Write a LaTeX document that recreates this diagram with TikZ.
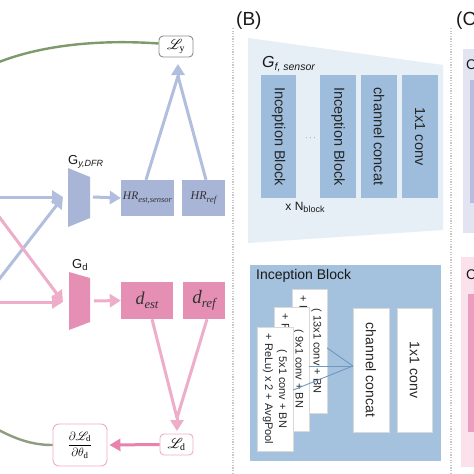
\documentclass[tikz,border=0pt]{standalone}
\usepackage{fontspec}
\setmainfont{Liberation Serif}
\setsansfont{Liberation Sans}
\usepackage{mathrsfs}
\usetikzlibrary{arrows.meta,calc}
\definecolor{bluebox}{HTML}{A9B5D7}
\definecolor{bluearr}{HTML}{B2BEDE}
\definecolor{pinkbox}{HTML}{E58FB5}
\definecolor{pinkarr}{HTML}{EEADC9}
\definecolor{pinkdark}{HTML}{E883AE}
\definecolor{greencurve}{HTML}{7E9A6B}
\definecolor{greengray}{HTML}{8E9C80}
\definecolor{panelB}{HTML}{E6EEF6}
\definecolor{steel}{HTML}{9EBDDC}
\definecolor{steelbig}{HTML}{A4C1DD}
\definecolor{steelline}{HTML}{7098BE}
\definecolor{lavlight}{HTML}{E3E4F2}
\definecolor{lavdark}{HTML}{B8BCE0}
\definecolor{pinklight}{HTML}{FBE1EC}
\definecolor{pinkmid}{HTML}{EB9DC0}
\definecolor{dotgray}{HTML}{C8C8C8}
\tikzset{
  bluebx/.style={fill=bluebox,draw=none,inner sep=0pt},
  pinkbx/.style={fill=pinkbox,draw=none,inner sep=0pt},
  lossbx/.style={rounded corners=4pt,fill=white,inner sep=0pt,line width=0.9pt},
  bline/.style={draw=bluearr,line width=3pt},
  barrow/.style={draw=bluearr,line width=3pt,-{Triangle[width=13pt,length=11pt]}},
  pline/.style={draw=pinkarr,line width=3pt},
  parrow/.style={draw=pinkarr,line width=3pt,-{Triangle[width=13pt,length=11pt]}},
  steelbx/.style={fill=steel,draw=none,rotate=-90,inner sep=0pt,minimum width=123pt,font=\sffamily\fontsize{14.5}{15}\selectfont,text=black!85},
  whitebx/.style={fill=white,draw=black!15,line width=0.4pt,rotate=-90,inner sep=0pt,minimum width=124pt,minimum height=35pt,align=center,font=\sffamily\fontsize{11}{14}\selectfont,text=black!85},
  sepline/.style={draw=dotgray,line width=1.6pt,dash pattern=on 1.2pt off 1.4pt},
  lbl/.style={font=\sffamily,text=black!90,inner sep=0pt}
}
\begin{document}
\begin{tikzpicture}[x=1pt,y=-1pt]
\clip (0,0) rectangle (474,474);
\fill[white] (0,0) rectangle (474,474);

% ---------- Panel A ----------
\fill[bluebox] (68,168) -- (90,177) -- (90,218) -- (68,227) -- cycle;
\fill[pinkbox] (69,272) -- (90,278) -- (90,322) -- (69,330) -- cycle;
\coordinate (Gyin) at (63,197);
\coordinate (Gyout) at (93,197);
\coordinate (Gdin) at (63,302);
\coordinate (Gdout) at (94,301);
\node[lbl,anchor=base west] (Gylab) at (68,164) {\fontsize{13}{13}\selectfont G\raisebox{-2.5pt}{\fontsize{9}{9}\selectfont\itshape y,DFR}};
\node[lbl,anchor=base west] (Gdlab) at (72,268) {\fontsize{13}{13}\selectfont G\raisebox{-2pt}{\fontsize{9.5}{9}\selectfont d}};

\coordinate (inB1) at (-5,197);
\coordinate (inB2) at (-5,284.6);
\coordinate (inP1) at (-5,211.3);
\coordinate (inP2) at (-5,302);
\draw[barrow] (inB1) -- (Gyin);
\draw[barrow] (inB2) -- (Gyin);
\draw[parrow] (inP1) -- (Gdin);
\draw[parrow] (inP2) -- (Gdin);

\node[bluebx,minimum width=53pt,minimum height=36pt] (HRest) at (147.5,198) {\fontsize{11.5}{11}\selectfont\itshape\color{black!80}HR\raisebox{-2.5pt}{\fontsize{8.5}{8}\selectfont est,sensor}};
\node[bluebx,minimum width=43pt,minimum height=36pt] (HRref) at (203.5,198) {\fontsize{12}{11}\selectfont\itshape\color{black!80}HR\raisebox{-2.5pt}{\fontsize{9}{8}\selectfont ref}};
\node[pinkbx,minimum width=52pt,minimum height=37pt] (dest) at (147,300.5) {\fontsize{18}{17}\selectfont\itshape\color{black!80}d\raisebox{-4pt}{\fontsize{12.5}{12}\selectfont est}};
\node[pinkbx,minimum width=42pt,minimum height=37pt] (dref) at (204,300.5) {\fontsize{19}{17}\selectfont\itshape\color{black!80}d\raisebox{-4pt}{\fontsize{13}{12}\selectfont ref}};
\draw[barrow] (Gyout) -- (HRest.west);
\draw[parrow] (Gdout) -- (dest.west);

\node[lossbx,draw=black!45,minimum width=34pt,minimum height=21pt] (Ly) at (176,46.5) {\fontsize{14}{14}\selectfont$\mathscr{L}_{\mathrm{y}}$};
\node[lossbx,draw=pinkarr,minimum width=33pt,minimum height=21pt] (Ld) at (176.5,444.5) {\fontsize{14}{14}\selectfont$\mathscr{L}_{\mathrm{d}}$};
\node[lossbx,draw=pinkarr,rounded corners=6pt,minimum width=54pt,minimum height=42pt] (dL) at (80,445) {\fontsize{12.5}{12}\selectfont$\displaystyle\frac{\partial\mathscr{L}_{\mathrm{d}}}{\partial\theta_{\mathrm{d}}}$};

\coordinate (Lyjoin) at (178,76);
\coordinate (Lytip) at (178,64);
\draw[bline] ($(HRest.north)+(-1.5,0)$) -- (Lyjoin);
\draw[bline] ($(HRref.north)+(2.5,0)$) -- (Lyjoin);
\draw[barrow] (Lyjoin) -- (Lytip);

\coordinate (Ldjoin) at (177,418);
\coordinate (Ldtip) at (177,431);
\draw[pline] ($(dest.south)+(5,0)$) -- (Ldjoin);
\draw[pline] ($(dref.south)+(3,0)$) -- (Ldjoin);
\draw[parrow] (Ldjoin) -- (Ldtip);

\draw[draw=pinkdark,line width=3pt,-{Triangle[width=12pt,length=11pt]}] (Ld.west) -- ($(dL.east)+(2,0)$);

\coordinate (gA) at (-15,68);
\coordinate (gB) at (-12,424);
\draw[greencurve,line width=2.4pt] ($(Ly.west)+(0,-3)$) .. controls (110,40) and (40,42) .. (gA);
\draw[greengray,line width=2.4pt] (dL.west) .. controls (30,445) and (12,438) .. (gB);

% ---------- separators ----------
\draw[sepline] (233,28) -- (233,474);
\draw[sepline] (451,28) -- (451,474);
\node[lbl,anchor=north west] (Blab) at (236,12) {\fontsize{19}{19}\selectfont(B)};
\node[lbl,anchor=north west] (Clab) at (456,12) {\fontsize{19}{19}\selectfont(C)};

% ---------- Panel B top ----------
\fill[panelB] (248,38) -- (443,65) -- (443,230) -- (248,243) -- cycle;
\node[lbl,anchor=base west] (Gflab) at (262,67) {\fontsize{16}{16}\selectfont\itshape G\raisebox{-3pt}{\fontsize{10.5}{11}\selectfont f, sensor}};
\node[steelbx,minimum height=35pt] (ib1) at (278.5,136.5) {Inception Block};
\node[lbl,text=black!60] (dots) at (310.5,138) {\fontsize{9}{9}\selectfont$\cdots$};
\node[steelbx,minimum height=36pt] (ib2) at (338,136.5) {Inception Block};
\node[steelbx,minimum height=36pt] (cc1) at (379,136.5) {channel concat};
\node[steelbx,minimum height=36pt] (conv1) at (420,136.5) {1x1 conv};
\node[lbl,anchor=base] (nblock) at (305,210) {\fontsize{12}{12}\selectfont x N\raisebox{-2.5pt}{\fontsize{9}{9}\selectfont block}};

% ---------- Panel B bottom ----------
\node[fill=steelbig,minimum width=191pt,minimum height=196pt,inner sep=0pt] (ibbig) at (345.5,363) {};
\node[lbl,anchor=north west] (iblab) at (256,269) {\fontsize{14}{14}\selectfont Inception Block};
\node[whitebx] (back) at (309.5,351) {( 13x1 conv + BN\\+ ReLu) x 2 + AvgPool};
\node[whitebx] (mid) at (291.5,369) {( 9x1 conv + BN\\+ ReLu) x 2 + AvgPool};
\node[whitebx,minimum height=36pt] (front) at (275,389) {( 5x1 conv + BN\\+ ReLu) x 2 + AvgPool};
\node[whitebx,minimum height=36pt,font=\sffamily\fontsize{14}{15}\selectfont] (cc2) at (371,370) {channel concat};
\node[whitebx,minimum height=35pt,font=\sffamily\fontsize{14}{15}\selectfont] (conv2) at (414.5,370) {1x1 conv};
\coordinate (ccin) at ($(cc2.south)+(0,-4)$);
\draw[steelline,line width=0.9pt] ($(back.north)+(0,-3)$) -- (ccin);
\draw[steelline,line width=0.9pt] ($(mid.north)+(0,-3)$) -- (ccin);
\draw[steelline,line width=0.9pt] ($(front.north)+(0,1)$) -- (ccin);

% ---------- Panel C (cut off) ----------
\fill[lavlight] (463,49) rectangle (480,233);
\node[lbl,anchor=north west] (Ctop) at (466,60) {\fontsize{14}{14}\selectfont C};
\fill[lavdark] (470,80) rectangle (480,203);
\fill[pinklight] (461,257) rectangle (480,467);
\node[lbl,anchor=north west] (Cbot) at (466,270) {\fontsize{14}{14}\selectfont C};
\fill[pinkmid] (468,294) rectangle (480,432);
\end{tikzpicture}
\end{document}
